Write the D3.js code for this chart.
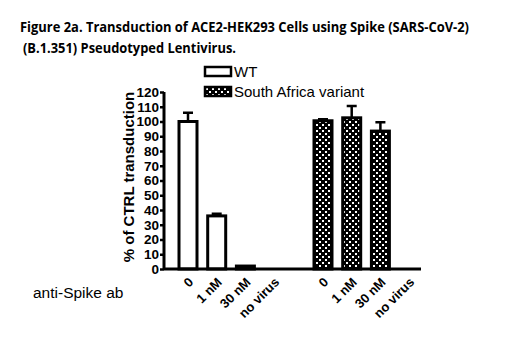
<!DOCTYPE html>
<html>
<head>
<meta charset="utf-8">
<script src="https://cdn.jsdelivr.net/npm/d3@7"></script>
<style>
  body { margin: 0; background: white; }
  svg { display: block; }
</style>
</head>
<body>
<div id="chart"></div>
<script>
// values
const doses = ["0", "1 nM", "30 nM", "no virus"];
const series = ["WT", "South Africa variant"];
const wtMean = [100, 36, 2, null];
const wtErr = [6, 1.5, 0, null];
const saMean = [100.5, 102.5, 93.5, null];
const saErr = [1, 8, 6, null];
const yTicks = d3.range(0, 121, 10);

const width = 505, height = 351;

const svg = d3.select("#chart")
    .append("svg")
    .attr("width", width)
    .attr("height", height);

// checkered fill for the variant bars
const pat = svg.append("defs").append("pattern")
    .attr("id", "check")
    .attr("patternUnits", "userSpaceOnUse")
    .attr("width", 6).attr("height", 6);
pat.append("rect").attr("width", 6).attr("height", 6).attr("fill", "#000");
pat.append("rect").attr("x", 1).attr("y", 1).attr("width", 2).attr("height", 2).attr("fill", "#fff");
pat.append("rect").attr("x", 4).attr("y", 4).attr("width", 2).attr("height", 2).attr("fill", "#fff");

// title
svg.append("text")
    .attr("x", 20).attr("y", 32)
    .attr("font-family", "Open Sans, sans-serif")
    .attr("font-weight", "bold")
    .attr("font-size", 14)
    .attr("textLength", 449)
    .attr("lengthAdjust", "spacingAndGlyphs")
    .text("Figure 2a. Transduction of ACE2-HEK293 Cells using Spike (SARS-CoV-2)");
svg.append("text")
    .attr("x", 23).attr("y", 53)
    .attr("font-family", "Open Sans, sans-serif")
    .attr("font-weight", "bold")
    .attr("font-size", 14)
    .attr("textLength", 213)
    .attr("lengthAdjust", "spacingAndGlyphs")
    .text("(B.1.351) Pseudotyped Lentivirus.");

const y = d3.scaleLinear().domain([0, 120]).range([269, 92]);

// one slot per bar: WT group then variant group
const groups = [
    { name: series[0], mean: wtMean, err: wtErr, fill: "#fff", x0: 178 },
    { name: series[1], mean: saMean, err: saErr, fill: "url(#check)", x0: 313 }
];
const step = 28.7, barW = 18;

const bars = [];
groups.forEach(g => {
    doses.forEach((dose, i) => {
        bars.push({ dose, mean: g.mean[i], err: g.err[i], fill: g.fill, cx: g.x0 + i * step + 10 });
    });
});

// y axis
const yAxis = svg.append("g")
    .attr("transform", "translate(164,0)")
    .call(d3.axisLeft(y).tickValues(yTicks).tickSize(4).tickPadding(1));
yAxis.select(".domain").attr("stroke-width", 3).attr("d", `M0,${y(120)}V${y(0)}`);
yAxis.selectAll(".tick line").attr("stroke-width", 2.5);
yAxis.selectAll(".tick text")
    .attr("font-family", "Liberation Sans, Arial, sans-serif")
    .attr("font-weight", "bold")
    .attr("font-size", 13.5)
    .attr("fill", "#000");

svg.append("text")
    .attr("transform", `translate(134,177) rotate(-90)`)
    .attr("text-anchor", "middle")
    .attr("font-family", "Liberation Sans, Arial, sans-serif")
    .attr("font-weight", "bold")
    .attr("font-size", 15)
    .text("% of CTRL transduction");

// error bars (upper only)
const withData = bars.filter(d => d.mean != null);
svg.append("g").selectAll("path")
    .data(withData.filter(d => d.err > 0))
    .join("path")
    .attr("d", d => `M${d.cx},${y(d.mean)}V${y(d.mean + d.err)}M${d.cx - 5},${y(d.mean + d.err)}H${d.cx + 5}`)
    .attr("stroke", "#000")
    .attr("stroke-width", 2.5)
    .attr("fill", "none");

// bars
svg.append("g").selectAll("rect")
    .data(withData)
    .join("rect")
    .attr("x", d => d.cx - barW / 2)
    .attr("width", barW)
    .attr("y", d => y(d.mean))
    .attr("height", d => y(0) - y(d.mean))
    .attr("fill", d => d.fill)
    .attr("stroke", "#000")
    .attr("stroke-width", 3);

// baseline
svg.append("line")
    .attr("x1", 164).attr("x2", 421)
    .attr("y1", y(0)).attr("y2", y(0))
    .attr("stroke", "#000")
    .attr("stroke-width", 3);

// rotated dose labels
svg.append("g").selectAll("text")
    .data(bars)
    .join("text")
    .attr("transform", d => `translate(${d.cx + 6},${y(0) + 14}) rotate(-45)`)
    .attr("text-anchor", "end")
    .attr("font-family", "Liberation Sans, Arial, sans-serif")
    .attr("font-weight", "bold")
    .attr("font-size", 13)
    .text(d => d.dose);

svg.append("text")
    .attr("x", 33).attr("y", 298)
    .attr("font-family", "Liberation Sans, Arial, sans-serif")
    .attr("font-size", 15.5)
    .text("anti-Spike ab");

// legend
const legend = svg.append("g").selectAll("g")
    .data(groups)
    .join("g")
    .attr("transform", (d, i) => `translate(205,${67 + i * 20})`);
legend.append("rect")
    .attr("width", 26).attr("height", 9)
    .attr("fill", d => d.fill)
    .attr("stroke", "#000")
    .attr("stroke-width", 2.5);
legend.append("text")
    .attr("x", 29).attr("y", 10)
    .attr("font-family", "Liberation Sans, Arial, sans-serif")
    .attr("font-size", 15)
    .text(d => d.name);
</script>
</body>
</html>
